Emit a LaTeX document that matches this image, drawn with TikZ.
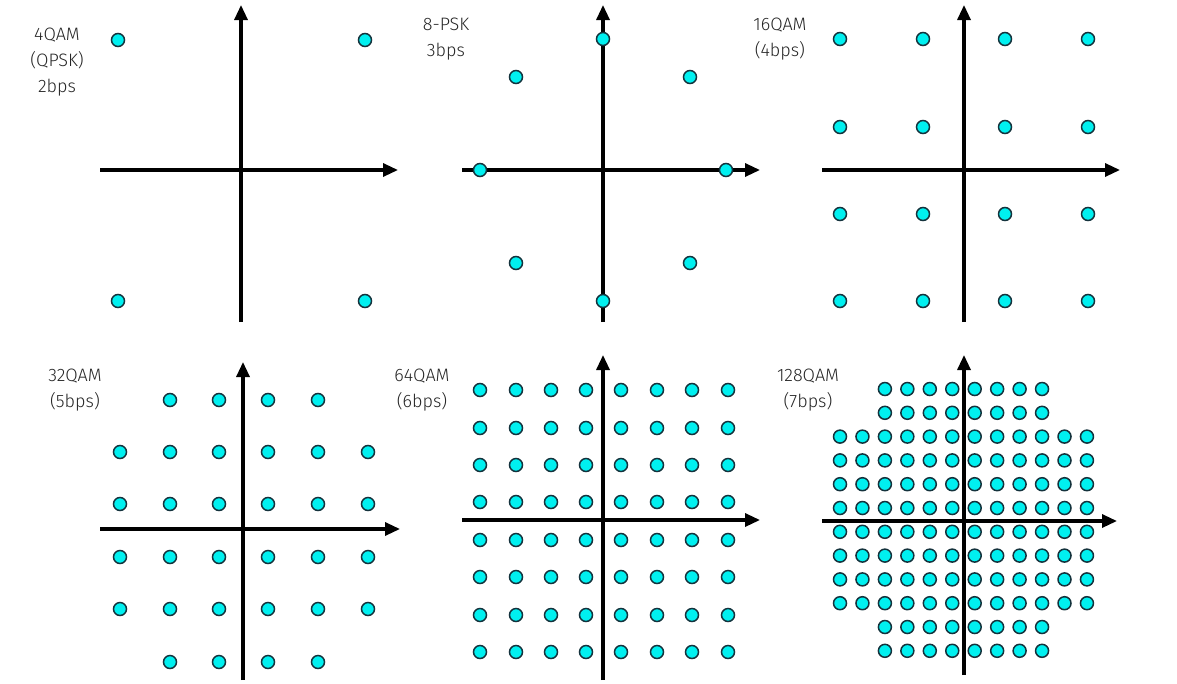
\documentclass[tikz,border=0pt]{standalone}
\usepackage{fontspec}
\setmainfont{Fira Sans Light}
\usetikzlibrary{arrows.meta}
\definecolor{dotc}{RGB}{0,240,240}
\definecolor{dotb}{RGB}{20,50,60}
\begin{document}
\begin{tikzpicture}[x=1pt,y=-1pt,
  ax/.style={line width=3.2pt,-{Triangle[length=15pt,width=13pt]}},
  dot/.style={circle,fill=dotc,draw=dotb,line width=1.5pt,minimum size=13pt,inner sep=0pt},
  lab/.style={align=center,font=\fontsize{18}{26}\selectfont,text=black!85}]
\useasboundingbox (0,0) rectangle (1177,683);
% axes
\draw[ax] (241,322)--(241,5); \draw[ax] (100,170)--(398,170);
\draw[ax] (603,322)--(603,5); \draw[ax] (462,170)--(760,170);
\draw[ax] (964,322)--(964,5); \draw[ax] (822,170)--(1120,170);
\draw[ax] (243,680)--(243,362); \draw[ax] (100,529)--(400,529);
\draw[ax] (603,680)--(603,355); \draw[ax] (462,520)--(760,520);
\draw[ax] (964,675)--(964,355); \draw[ax] (822,521)--(1117,521);
% 4QAM
\foreach \x in {118,365} \foreach \y in {40,301} \node[dot] at (\x,\y) {};
% 8PSK
\foreach \p in {(603,39),(516,77),(690,77),(480,170),(726,170),(516,263),(690,263),(603,301)} \node[dot] at \p {};
% 16QAM
\foreach \x in {840,923,1005,1088} \foreach \y in {39,127,214,301} \node[dot] at (\x,\y) {};
% 32QAM
\foreach \x in {120,170,219,268,318,368} \foreach \y in {452,504,557,609} \node[dot] at (\x,\y) {};
\foreach \x in {170,219,268,318} \foreach \y in {400,662} \node[dot] at (\x,\y) {};
% 64QAM
\foreach \x in {480,516,551,586,621,657,692,728} \foreach \y in {390,428,465,502,540,577,615,652} \node[dot] at (\x,\y) {};
% 128QAM
\foreach \i in {0,...,11} \foreach \j in {0,...,11} {
  \pgfmathtruncatemacro{\ok}{((\i<2 || \i>9) && (\j<2 || \j>9)) ? 0 : 1}
  \ifnum\ok=1 \node[dot] at ({840+\i*22.45},{389+\j*23.8}) {};\fi }
% labels
\node[lab] (l1) at (57,62) {4QAM\\(QPSK)\\2bps};
\node[lab] (l2) at (446,39) {8-PSK\\3bps};
\node[lab] (l3) at (780,39) {16QAM\\(4bps)};
\node[lab] (l4) at (75,390) {32QAM\\(5bps)};
\node[lab] (l5) at (422,390) {64QAM\\(6bps)};
\node[lab] (l6) at (808,390) {128QAM\\(7bps)};
\end{tikzpicture}
\end{document}
